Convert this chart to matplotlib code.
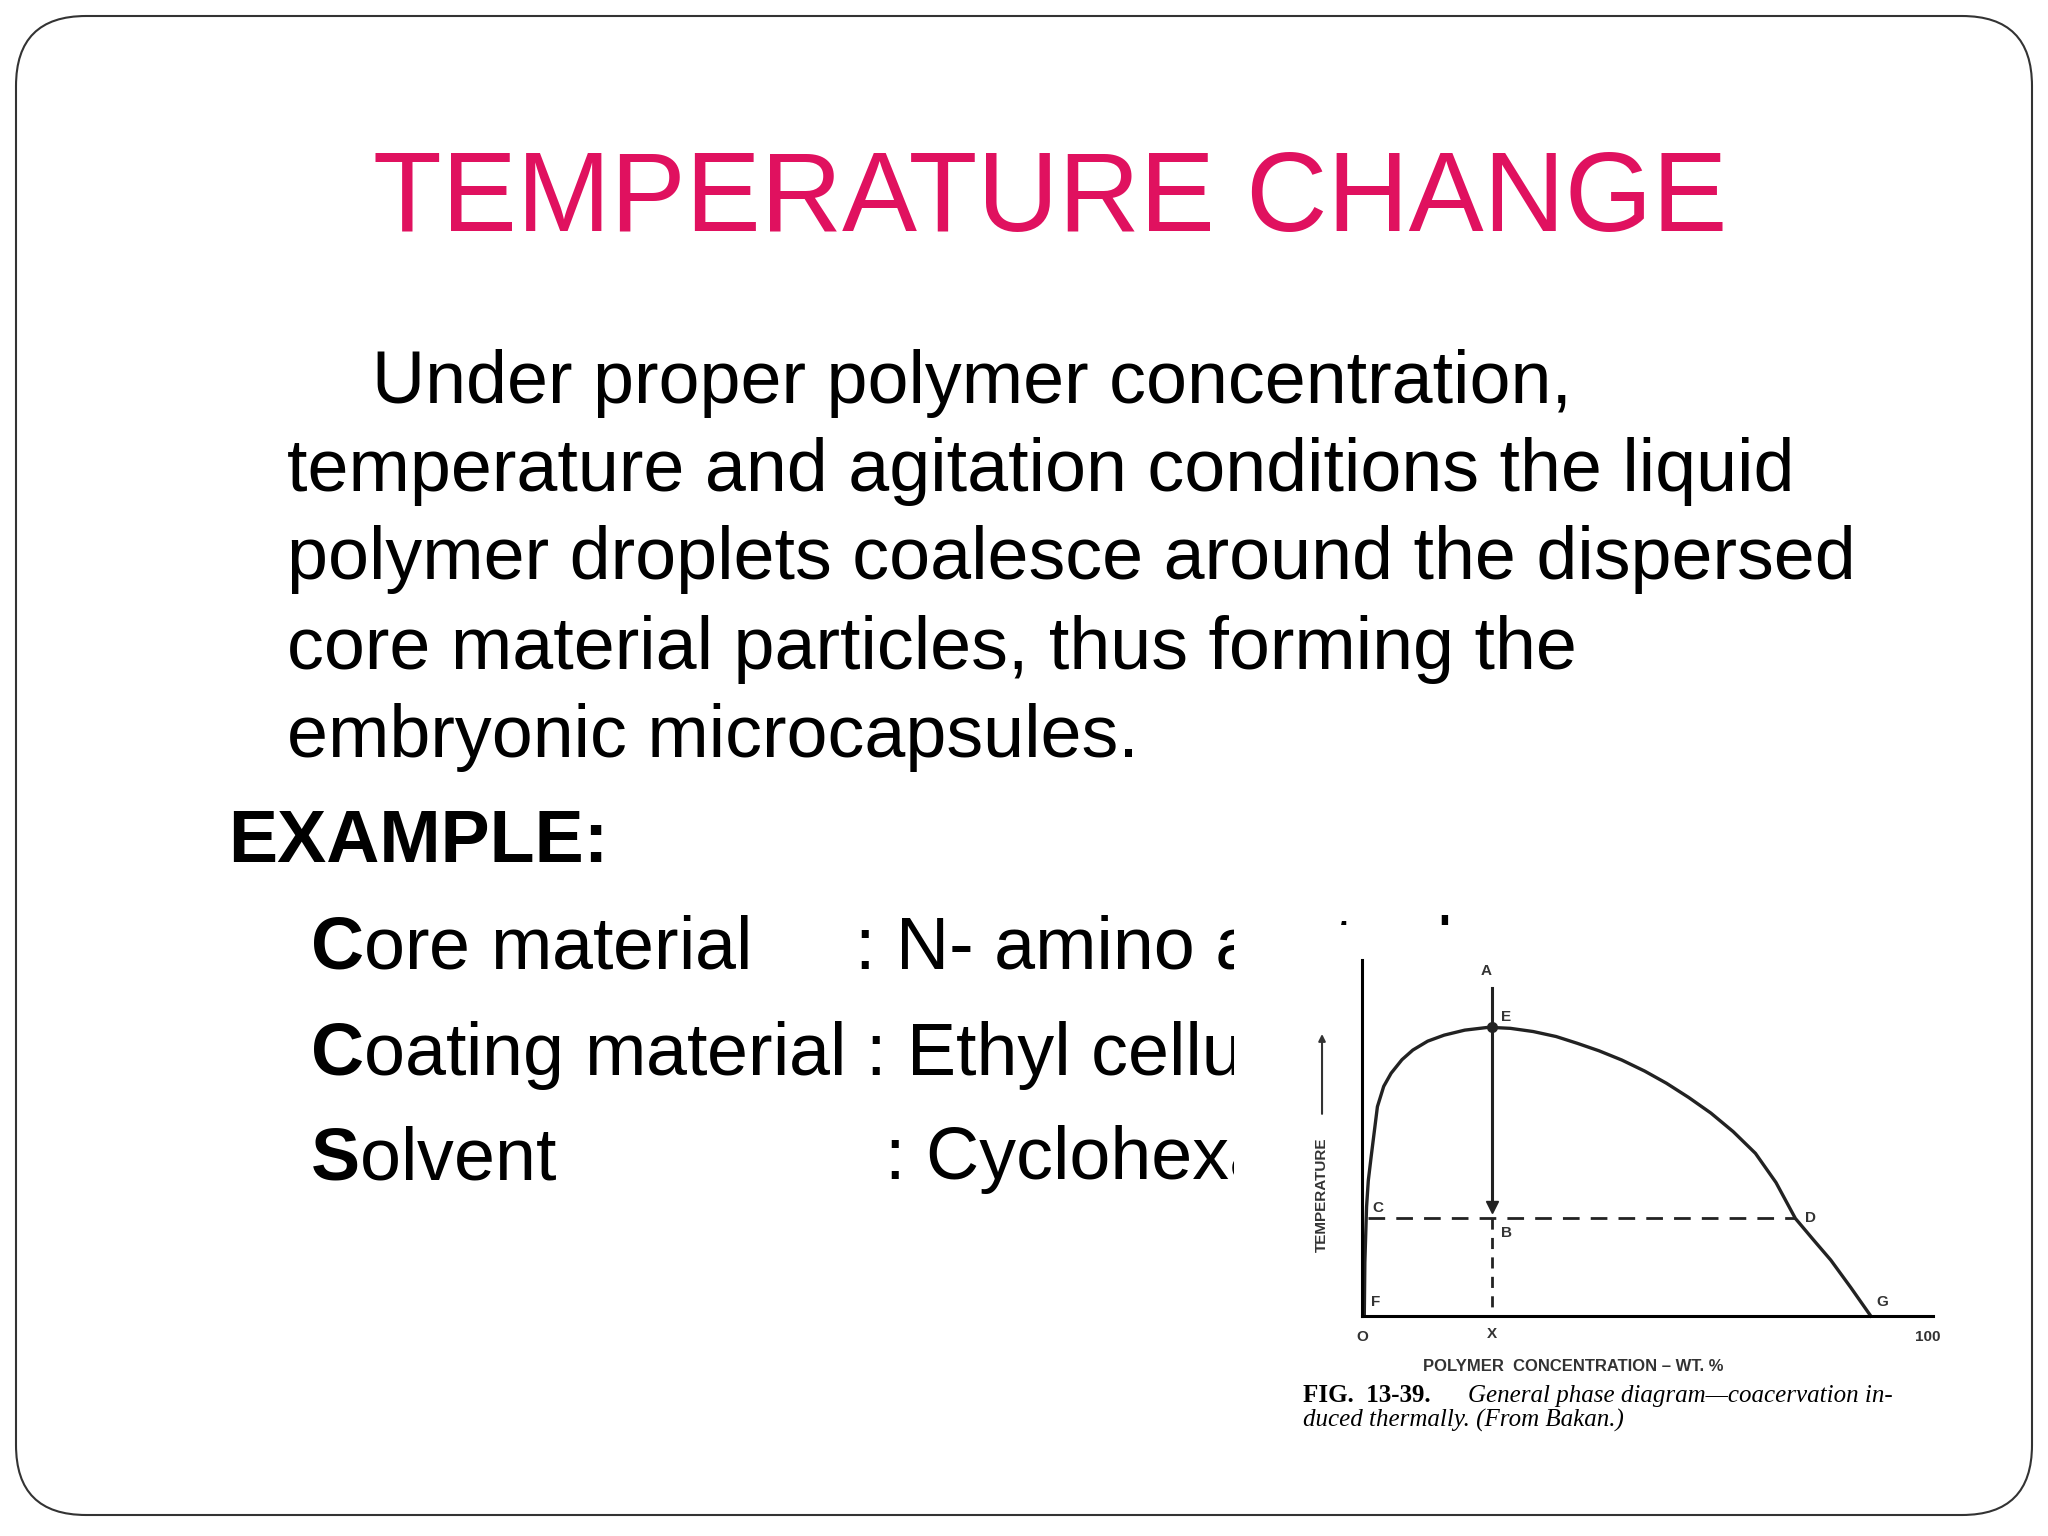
import matplotlib.pyplot as plt
import matplotlib.patches as mpatches

plt.rcParams['font.family'] = ['Liberation Sans', 'DejaVu Sans']
plt.rcParams['mathtext.fontset'] = 'custom'
plt.rcParams['mathtext.rm'] = 'Liberation Sans'
plt.rcParams['mathtext.bf'] = 'Liberation Sans:bold'

title = "TEMPERATURE CHANGE"
body_lines = ["Under proper polymer concentration,",
              "temperature and agitation conditions the liquid",
              "polymer droplets coalesce around the dispersed",
              "core material particles, thus forming the",
              "embryonic microcapsules."]
example_rows = [(r"$\mathbf{C}$ore material", ": N- amino acetophenone", 855),
                (r"$\mathbf{C}$oating material", ": Ethyl cellulose", 866),
                (r"$\mathbf{S}$olvent", ": Cyclohexane", 885)]

# phase diagram curve (wt %, relative temperature)
conc = [0.4, 0.5, 0.8, 1.1, 1.6, 2.7, 3.8, 5.1, 7.0, 8.9, 11.5, 14.4, 18.0, 22.2, 26.0, 30.0, 34.0,
        37.7, 41.5, 45.5, 49.5, 53.3, 57.2, 61.1, 65.0, 68.9, 72.5, 75.9, 79.0, 82.1, 85.6, 89.1]
temp = [0, 15, 30.7, 38, 44.7, 58.8, 64.5, 68.2, 72.0, 74.7, 77.2, 78.9, 80.3, 81.1, 80.8, 79.9, 78.5,
        76.6, 74.5, 71.9, 68.8, 65.4, 61.4, 57.0, 51.8, 45.7, 37.5, 27.4, 21.5, 15.7, 8.0, 0]
x_point = 22.8
t_line = 27.4
t_top = 92
t_arrow = 30.7

fig = plt.figure(figsize=(20.48, 15.36), dpi=100)
ax = fig.add_axes([0, 0, 1, 1])
ax.set_xlim(0, 2048)
ax.set_ylim(1536, 0)
ax.axis('off')

ax.add_patch(mpatches.FancyBboxPatch((16, 16), 2016, 1499, boxstyle="round,pad=0,rounding_size=70",
                                     fc='white', ec='#333333', lw=1.5))
ax.text(1050, 202, title, color='#E0115F', fontsize=81, ha='center', va='center')

ys = [383, 471, 560, 649, 738]
for i, (line, y) in enumerate(zip(body_lines, ys)):
    ax.text(372 if i == 0 else 287, y, line, fontsize=53, va='center', color='black')

ax.text(228, 842, "EXAMPLE:", fontsize=53, fontweight='bold', va='center')
for (lab, val, vx), y in zip(example_rows, [949, 1055, 1160]):
    ax.text(310, y, lab, fontsize=53, va='center', zorder=2)
    ax.text(vx, y, val, fontsize=53, va='center', zorder=2)

ax.add_patch(mpatches.Rectangle((1234, 925), 760, 530, fc='white', ec='none', zorder=3))

# inset phase diagram
ins = fig.add_axes([1362 / 2048, 1 - 1316 / 1536, 571 / 2048, 356 / 1536])
ins.set_xlim(0, 100)
ins.set_ylim(0, 100)
ins.patch.set_alpha(0)
for s in ['top', 'right']:
    ins.spines[s].set_visible(False)
for s in ['left', 'bottom']:
    ins.spines[s].set_linewidth(2.2)
ins.set_xticks([])
ins.set_yticks([])
ins.plot(conc, temp, color='#222222', lw=2.4, clip_on=False)
ins.plot([x_point, x_point], [t_top, t_arrow], color='#222222', lw=2.2)
ins.plot([x_point], [t_arrow], marker='v', color='#222222', ms=9)
ins.plot([x_point], [81.1], marker='o', color='#222222', ms=7)
ins.plot([x_point, x_point], [t_line, 0], color='#222222', lw=2, ls=(0, (4, 3)))
ins.plot([1, 75.9], [t_line, t_line], color='#222222', lw=2, ls=(0, (6, 4)))
lab = dict(fontsize=11, color='#333333', fontweight='bold')
ins.text(x_point - 1, t_top + 3, "A", ha='center', va='bottom', **lab)
ins.text(x_point + 1.5, 82, "E", ha='left', va='bottom', **lab)
ins.text(x_point + 1.5, t_line - 2, "B", ha='left', va='top', **lab)
ins.text(1.8, t_line + 1, "C", ha='left', va='bottom', **lab)
ins.text(77.5, t_line, "D", ha='left', va='center', **lab)
ins.text(1.5, 2, "F", ha='left', va='bottom', **lab)
ins.text(90, 2, "G", ha='left', va='bottom', **lab)
ins.text(0, -4, "O", ha='center', va='top', **lab)
ins.text(x_point, -3, "X", ha='center', va='top', **lab)
ins.text(99, -4, "100", ha='center', va='top', **lab)
ins.text(37, -12, "POLYMER  CONCENTRATION – WT. %", ha='center', va='top', fontsize=12, fontweight='bold', color='#333333')
ins.text(-7, 34, "TEMPERATURE", rotation=90, ha='center', va='center', fontsize=11, fontweight='bold', color='#333333')
ins.annotate("", xy=(-7, 80), xytext=(-7, 56), annotation_clip=False,
             arrowprops=dict(arrowstyle='-|>', color='#333333', lw=1.5))

ax.text(1303, 1396, "FIG.  13-39.", fontsize=18, fontweight='bold', family='Liberation Serif', va='center', zorder=4)
ax.text(1468, 1396, "General phase diagram—coacervation in-", fontsize=18, style='italic',
        family='Liberation Serif', va='center', zorder=4)
ax.text(1303, 1420, "duced thermally. (From Bakan.)", fontsize=18, style='italic',
        family='Liberation Serif', va='center', zorder=4)

fig.savefig("out.png", dpi=100)
